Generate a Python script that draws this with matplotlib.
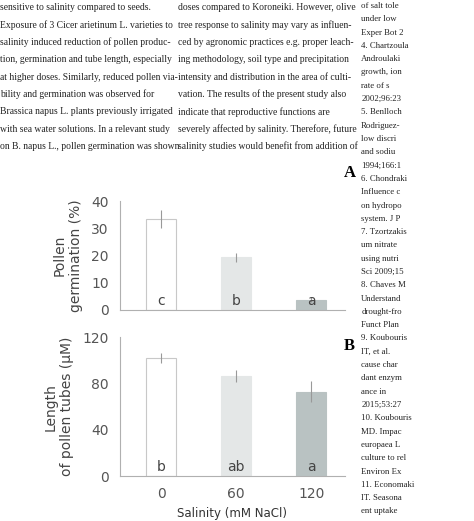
import matplotlib.pyplot as plt

salinity = ["0", "60", "120"]
germination = [33.5, 19.3, 3.8]
germination_err = [3.2, 1.8, 0.8]
germination_letters = ["c", "b", "a"]
tube_length = [102, 86.5, 73]
tube_length_err = [4.5, 5, 9]
tube_letters = ["b", "ab", "a"]
bar_colors = ["white", "#e4e7e7", "#b9c2c2"]

left_col = [
    "sensitive to salinity compared to seeds.",
    "Exposure of 3 Cicer arietinum L. varieties to",
    "salinity induced reduction of pollen produc-",
    "tion, germination and tube length, especially",
    "at higher doses. Similarly, reduced pollen via-",
    "bility and germination was observed for",
    "Brassica napus L. plants previously irrigated",
    "with sea water solutions. In a relevant study",
    "on B. napus L., pollen germination was shown",
]
mid_col = [
    "doses compared to Koroneiki. However, olive",
    "tree response to salinity may vary as influen-",
    "ced by agronomic practices e.g. proper leach-",
    "ing methodology, soil type and precipitation",
    "intensity and distribution in the area of culti-",
    "vation. The results of the present study also",
    "indicate that reproductive functions are",
    "severely affected by salinity. Therefore, future",
    "salinity studies would benefit from addition of",
]
right_col = [
    "of salt tole", "under low", "Exper Bot 2", "4. Chartzoula", "Androulaki",
    "growth, ion", "rate of s", "2002;96:23", "5. Benlloch", "Rodriguez-",
    "low discri", "and sodiu", "1994;166:1", "6. Chondraki", "Influence c",
    "on hydropo", "system. J P", "7. Tzortzakis", "um nitrate", "using nutri",
    "Sci 2009;15", "8. Chaves M", "Understand", "drought-fro", "Funct Plan",
    "9. Koubouris", "IT, et al.", "cause char", "dant enzym", "ance in",
    "2015;53:27", "10. Koubouris", "MD. Impac", "europaea L", "culture to rel",
    "Environ Ex", "11. Economaki", "IT. Seasona", "ent uptake",
]

fig = plt.figure(figsize=(4.74, 5.21), dpi=100)
for i, s in enumerate(left_col):
    fig.text(0.0, 1 - (8 + i * 17.3) / 521, s, family="Liberation Serif", fontsize=6.9, va="center", color="#222")
for i, s in enumerate(mid_col):
    fig.text(0.376, 1 - (8 + i * 17.3) / 521, s, family="Liberation Serif", fontsize=6.9, va="center", color="#222")
for i, s in enumerate(right_col):
    fig.text(0.762, 1 - (6 + i * 13.3) / 521, s, family="Liberation Serif", fontsize=6.3, va="center", color="#222")

grey = "#b0b0b0"
tick_color = "#555555"

def panel(ax, vals, errs, letters, ymax, yticks, label, tag, tag_y):
    x = range(len(vals))
    ax.bar(x, vals, width=0.4, color=bar_colors, edgecolor=["#c8c8c8", "#e4e7e7", "#b9c2c2"], linewidth=0.8)
    ax.errorbar(x, vals, yerr=errs, fmt="none", ecolor="#999", elinewidth=0.8, capsize=0)
    for xi, l in zip(x, letters):
        ax.text(xi, ymax * 0.015, l, ha="center", va="bottom", fontsize=10, color="#444")
    ax.set_xlim(-0.55, 2.45)
    ax.set_ylim(0, ymax)
    ax.set_yticks(yticks)
    ax.tick_params(colors=tick_color, labelsize=10, length=0, pad=8)
    for s in ["top", "right"]:
        ax.spines[s].set_visible(False)
    for s in ["left", "bottom"]:
        ax.spines[s].set_color(grey)
    ax.set_ylabel(label, fontsize=10, color="#444", labelpad=6)
    ax.text(1.02, tag_y, tag, transform=ax.transAxes, family="Liberation Serif",
            fontweight="bold", fontsize=12, ha="center", va="center")

ax1 = fig.add_axes([0.253, 0.405, 0.475, 0.209])
panel(ax1, germination, germination_err, germination_letters, 40, [0, 10, 20, 30, 40], "Pollen\ngermination (%)", "A", 1.26)
ax1.set_xticks([])
ax2 = fig.add_axes([0.253, 0.086, 0.475, 0.267])
panel(ax2, tube_length, tube_length_err, tube_letters, 120, [0, 40, 80, 120], "Length\nof pollen tubes (μM)", "B", 0.935)
ax2.set_xticks(range(3))
ax2.set_xticklabels(salinity)
ax2.set_xlabel("Salinity (mM NaCl)", fontsize=8.5, color="#333", labelpad=4)

fig.savefig("out.png", dpi=100)
